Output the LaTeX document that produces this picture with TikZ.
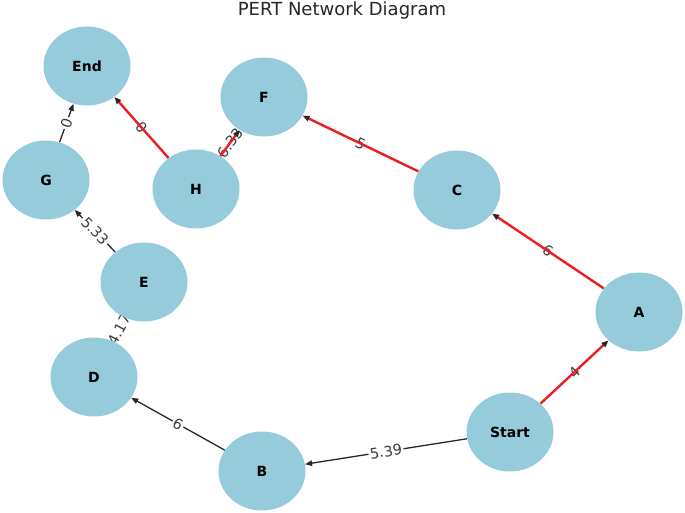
\documentclass[tikz,border=0pt]{standalone}
\usepackage{fontspec}
\setmainfont{DejaVu Sans}
\usetikzlibrary{shapes.geometric,arrows.meta,backgrounds}
\definecolor{nodeblue}{RGB}{150,203,220}
\definecolor{edgegray}{RGB}{40,40,40}
\definecolor{critred}{RGB}{235,30,35}
\definecolor{lblgray}{RGB}{60,60,60}
\tikzset{
  pnode/.style={ellipse, fill=nodeblue, minimum width=87pt, minimum height=79pt, inner sep=0pt, font=\fontsize{14}{16}\selectfont\bfseries},
  normedge/.style={draw=edgegray, line width=1.3pt, -{Triangle[length=7pt,width=5.5pt]}},
  critedge/.style={draw=critred, line width=2.4pt, -{Triangle[length=7pt,width=5.5pt,color=edgegray]}},
  lbl/.style={midway, sloped, fill=white, inner sep=1.5pt, text=lblgray, font=\fontsize{14.5}{16}\selectfont},
}
\begin{document}
\begin{tikzpicture}[x=1pt,y=-1pt]
\useasboundingbox (0,0) rectangle (685,513);
\node[font=\fontsize{18}{20}\selectfont, text=black!85] (title) at (342,11) {PERT Network Diagram};
\node[pnode] (End) at (87,66) {End};
\node[pnode] (F) at (264,97) {F};
\node[pnode] (G) at (46,180) {G};
\node[pnode] (H) at (196,189) {H};
\node[pnode] (C) at (457,190) {C};
\node[pnode] (E) at (144,282) {E};
\node[pnode] (D) at (94,377) {D};
\node[pnode] (A) at (639,312) {A};
\node[pnode] (Start) at (510,432) {Start};
\node[pnode] (B) at (262,471) {B};
\begin{pgfonlayer}{background}
% normal edges
\draw[normedge] (Start) -- node[lbl] {5.39} (B);
\draw[normedge] (B) -- node[lbl] {6} (D);
\draw[normedge] (D) -- node[lbl] {4.17} (E);
\draw[normedge] (E) -- node[lbl] {5.33} (G);
\draw[normedge] (G) -- node[lbl] {0} (End);
% critical path labels (under the red lines)
\path (Start) -- node[lbl] {4} (A);
\path (A) -- node[lbl] {6} (C);
\path (C) -- node[lbl] {5} (F);
\path (H) -- node[lbl] {6.33} (F);
\path (H) -- node[lbl] {0} (End);
% critical path edges
\draw[critedge] (Start) -- (A);
\draw[critedge] (A) -- (C);
\draw[critedge] (C) -- (F);
\draw[critedge] (H) -- (F);
\draw[critedge] (H) -- (End);
\end{pgfonlayer}
\end{tikzpicture}
\end{document}
